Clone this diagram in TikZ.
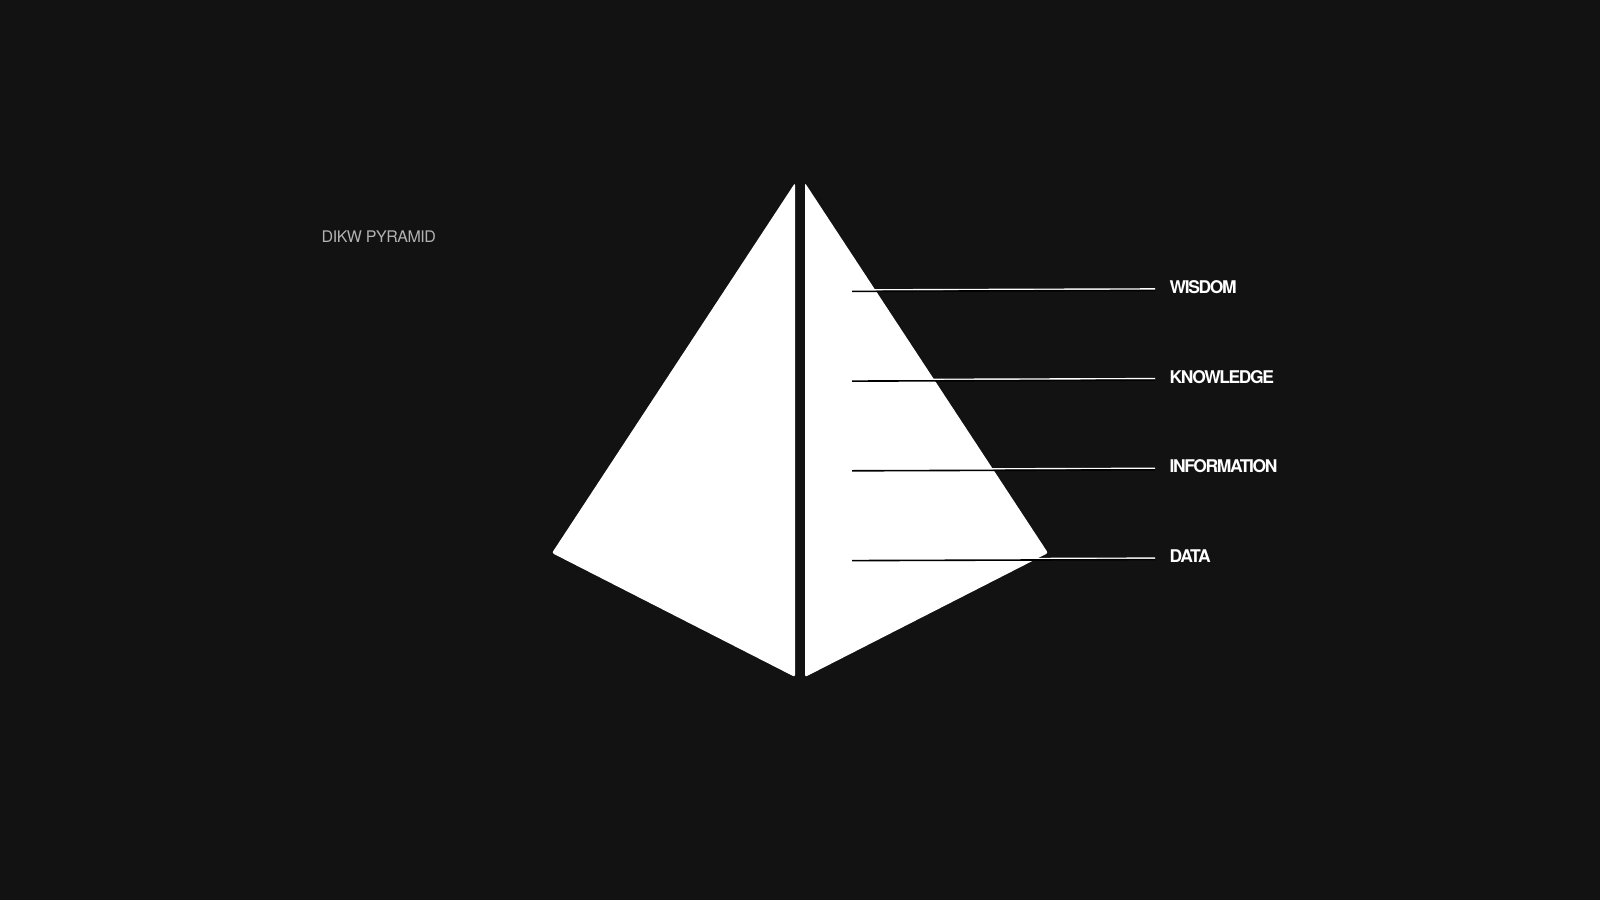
\documentclass[tikz,border=0pt]{standalone}
\usepackage{fontspec}
\setmainfont{TeX Gyre Heros}
\newfontfamily\lblfont[LetterSpace=-8]{TeX Gyre Heros Bold}
\newfontfamily\ttlfont[LetterSpace=-3]{TeX Gyre Heros}
\usetikzlibrary{calc}
\definecolor{bgdark}{RGB}{18,18,18}
\definecolor{ttlgray}{RGB}{178,178,178}
\tikzset{
  face/.style={fill=white, rounded corners=0.6pt},
  lvl/.style={anchor=west, inner xsep=0.14cm, inner ysep=0, text height=0.126cm, text depth=0.04cm,
    text=white, font=\lblfont\fontsize{4.98pt}{6pt}\selectfont},
  leader/.style={draw=white, line width=0.016cm,
    postaction={draw=black, line width=0.016cm, transform canvas={yshift=-0.014cm}}}
}

\begin{document}
\begin{tikzpicture}[scale=1]
\fill[bgdark] (0,0) rectangle (16,9);
\useasboundingbox (0,0) rectangle (16,9);
% title
\node[anchor=base west, inner sep=0, text=ttlgray, font=\ttlfont\fontsize{4.55pt}{6pt}\selectfont] (ttl) at (3.21,6.577) {DIKW PYRAMID};
% the two faces
\fill[face] (7.95,7.17) -- (5.52,3.47) -- (7.95,2.23) -- cycle;
\fill[face] (8.05,7.17) -- (10.48,3.47) -- (8.05,2.23) -- cycle;
% levels
\node[lvl] (wis) at (11.55,6.11) {WISDOM};
\node[lvl] (kno) at (11.55,5.213) {KNOWLEDGE};
\node[lvl] (inf) at (11.55,4.316) {INFORMATION};
\node[lvl] (dat) at (11.55,3.418) {DATA};
\coordinate (w0) at (8.52,6.10);
\coordinate (k0) at (8.52,5.203);
\coordinate (i0) at (8.52,4.306);
\coordinate (d0) at (8.52,3.408);
\draw[leader] (w0) -- (wis.west);
\draw[leader] (k0) -- (kno.west);
\draw[leader] (i0) -- (inf.west);
\draw[leader] (d0) -- (dat.west);
\end{tikzpicture}
\end{document}
